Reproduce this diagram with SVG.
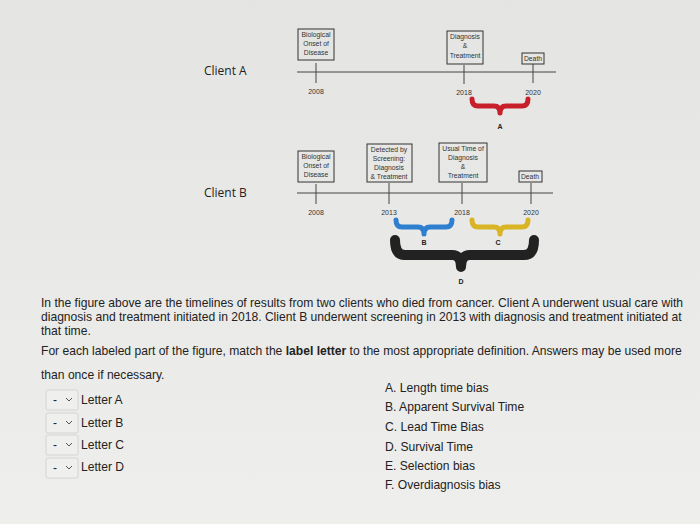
<svg xmlns="http://www.w3.org/2000/svg" width="700" height="524" viewBox="0 0 700 524">
<defs>
<linearGradient id="bg" x1="0" y1="0" x2="0" y2="1"><stop offset="0" stop-color="#e4e4e2"/><stop offset="1" stop-color="#eeeeec"/></linearGradient>
<style>
.box{fill:none;stroke:#333;stroke-width:1}
.bt{font-family:"Liberation Sans",sans-serif;font-size:6.8px;fill:#333;text-anchor:middle}
.yr{font-family:"Liberation Sans",sans-serif;font-size:7px;fill:#333;text-anchor:middle}
.ax{stroke:#444;stroke-width:1}
.cl{font-family:"Open Sans",sans-serif;font-size:12px;fill:#222}
.p{font-family:"Liberation Sans",sans-serif;font-size:12.1px;fill:#222}
.lt{font-family:"Liberation Sans",sans-serif;font-size:7px;font-weight:bold;fill:#222;text-anchor:middle}
.br{fill:none;stroke-linecap:round;stroke-linejoin:round}
.dd{fill:#efefed;stroke:#d4d4d2;stroke-width:1}
</style>
</defs>
<rect width="700" height="524" fill="url(#bg)"/>
<g id="clientA">
<text class="cl" x="204" y="75">Client A</text>
<line class="ax" x1="297" y1="72" x2="556" y2="72"/>
<line class="ax" x1="316" y1="63" x2="316" y2="83"/>
<line class="ax" x1="464" y1="65" x2="464" y2="84"/>
<line class="ax" x1="533" y1="64" x2="533" y2="83"/>
<text class="yr" x="316" y="94">2008</text><text class="yr" x="464" y="95">2018</text><text class="yr" x="533" y="95">2020</text>
</g>
<g id="a-onset"><rect class="box" x="298" y="29" width="36" height="31"/><text class="bt" x="316" y="37">Biological</text><text class="bt" x="316" y="46">Onset of</text><text class="bt" x="316" y="55">Disease</text></g>
<g id="a-diag"><rect class="box" x="447" y="31" width="36" height="33"/><text class="bt" x="465" y="39">Diagnosis</text><text class="bt" x="465" y="48">&amp;</text><text class="bt" x="465" y="58">Treatment</text></g>
<g id="a-death"><rect class="box" x="522" y="53" width="22" height="11"/><text class="bt" x="533" y="61">Death</text></g>
<g id="clientB">
<text class="cl" x="204" y="197">Client B</text>
<line class="ax" x1="297" y1="193" x2="553" y2="193"/>
<line class="ax" x1="316" y1="184" x2="316" y2="204"/>
<line class="ax" x1="389" y1="183" x2="389" y2="204"/>
<line class="ax" x1="462" y1="183" x2="462" y2="204"/>
<line class="ax" x1="531" y1="183" x2="531" y2="204"/>
<text class="yr" x="316" y="215">2008</text><text class="yr" x="389" y="215">2013</text><text class="yr" x="462" y="215">2018</text><text class="yr" x="531" y="215">2020</text>
</g>
<g id="b-onset"><rect class="box" x="298" y="151" width="36" height="31"/><text class="bt" x="316" y="159">Biological</text><text class="bt" x="316" y="168">Onset of</text><text class="bt" x="316" y="177">Disease</text></g>
<g id="b-detect"><rect class="box" x="367" y="144" width="45" height="38"/><text class="bt" x="389" y="152">Detected by</text><text class="bt" x="389" y="161">Screening:</text><text class="bt" x="389" y="170">Diagnosis</text><text class="bt" x="389" y="179">&amp; Treatment</text></g>
<g id="b-usual"><rect class="box" x="439" y="143" width="48" height="39"/><text class="bt" x="463" y="151">Usual Time of</text><text class="bt" x="463" y="160">Diagnosis</text><text class="bt" x="463" y="169">&amp;</text><text class="bt" x="463" y="178">Treatment</text></g>
<g id="b-death"><rect class="box" x="519" y="171" width="23" height="11"/><text class="bt" x="530" y="179">Death</text></g>
<g id="connectors">
<path class="br" stroke="#c8202a" stroke-width="5" d="M472 99 Q472 106 478 106 L494 106 Q500 106 500 113 Q500 106 506 106 L522 106 Q528 106 528 99"/>
<path class="br" stroke="#2f7fd0" stroke-width="5" d="M396 220 Q396 227 402 227 L418 227 Q424 227 424 234 Q424 227 430 227 L446 227 Q452 227 452 220"/>
<path class="br" stroke="#d9b526" stroke-width="5" d="M472 220 Q472 227 478 227 L494 227 Q500 227 500 234 Q500 227 506 227 L522 227 Q528 227 528 220"/>
<path class="br" stroke="#222" stroke-width="10" d="M395 240 Q395 255 405 255 L452 255 Q461 255 461 267 Q461 255 470 255 L524 255 Q534 255 534 240"/>
</g>
<g id="labels">
<text class="lt" x="500" y="129">A</text><text class="lt" x="424" y="245">B</text><text class="lt" x="498" y="245">C</text><text class="lt" x="461" y="284">D</text>
</g>
<g id="question">
<text class="p" x="41" y="307">In the figure above are the timelines of results from two clients who died from cancer. Client A underwent usual care with</text>
<text class="p" x="41" y="321">diagnosis and treatment initiated in 2018. Client B underwent screening in 2013 with diagnosis and treatment initiated at</text>
<text class="p" x="41" y="335">that time.</text>
<text class="p" x="41" y="355">For each labeled part of the figure, match the <tspan font-weight="bold">label letter</tspan> to the most appropriate definition. Answers may be used more</text>
<text class="p" x="41" y="379">than once if necessary.</text>
</g>
<g id="dropdowns">
<rect class="dd" x="46" y="390" width="32" height="20" rx="2"/><rect class="dd" x="46" y="413" width="32" height="20" rx="2"/><rect class="dd" x="46" y="435" width="32" height="20" rx="2"/><rect class="dd" x="46" y="458" width="32" height="20" rx="2"/>
<text x="53" y="404" class="p">-</text><text x="53" y="427" class="p">-</text><text x="53" y="449" class="p">-</text><text x="53" y="472" class="p">-</text>
<g fill="none" stroke="#555" stroke-width="1"><path d="M66 398 l3 3 l3 -3"/><path d="M66 421 l3 3 l3 -3"/><path d="M66 443 l3 3 l3 -3"/><path d="M66 466 l3 3 l3 -3"/></g>
<text class="p" x="81" y="404">Letter A</text><text class="p" x="81" y="427">Letter B</text><text class="p" x="81" y="449">Letter C</text><text class="p" x="81" y="471">Letter D</text>
</g>
<g id="options">
<text class="p" x="385" y="392">A. Length time bias</text>
<text class="p" x="385" y="411">B. Apparent Survival Time</text>
<text class="p" x="385" y="431">C. Lead Time Bias</text>
<text class="p" x="385" y="451">D. Survival Time</text>
<text class="p" x="385" y="470">E. Selection bias</text>
<text class="p" x="385" y="489">F. Overdiagnosis bias</text>
</g>
</svg>
